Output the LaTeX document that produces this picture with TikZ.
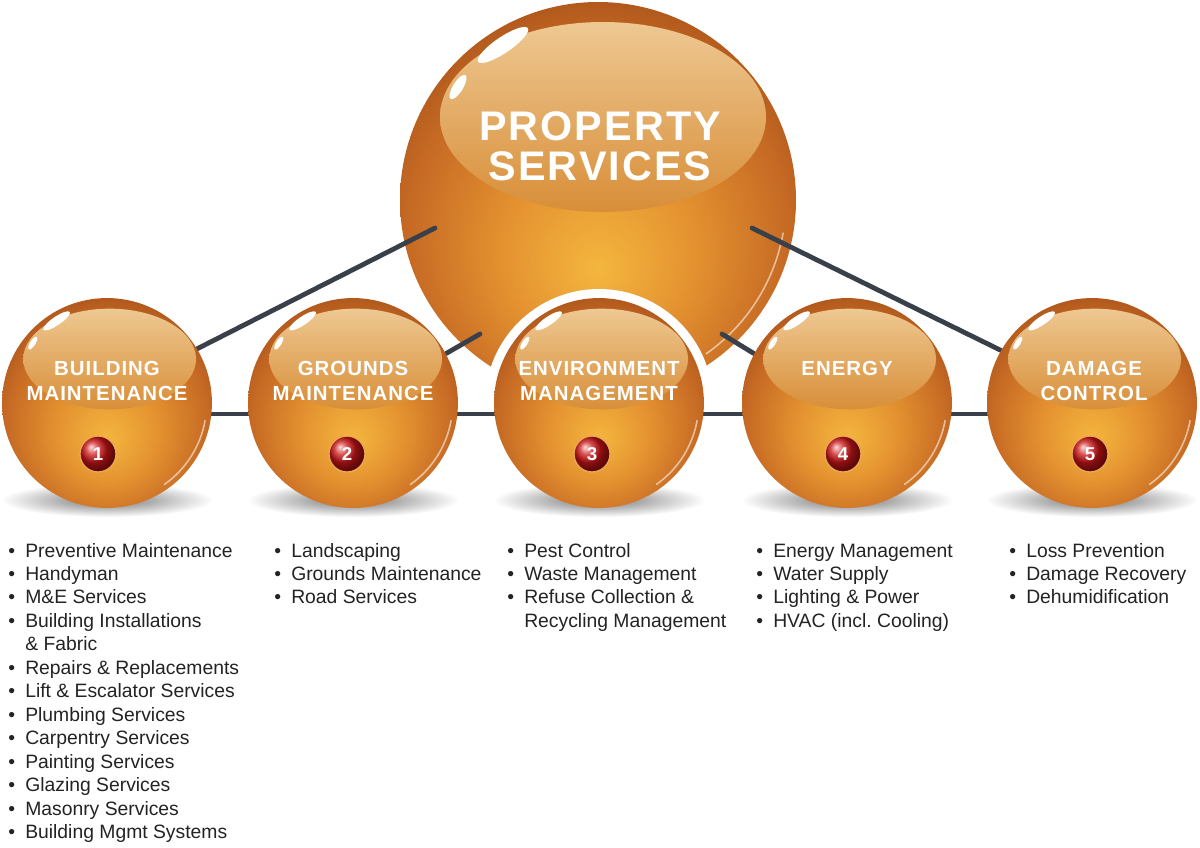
\documentclass[tikz,border=0pt]{standalone}
\usepackage{fontspec}
\setmainfont{Liberation Sans}
\newfontfamily\orbfont[LetterSpace=5]{Liberation Sans}
\usetikzlibrary{calc,positioning}

\definecolor{orbHi}{RGB}{244,182,62}
\definecolor{orbMid}{RGB}{228,146,48}
\definecolor{orbDark}{RGB}{198,106,36}
\definecolor{orbRim}{RGB}{168,82,26}
\definecolor{glossTop}{RGB}{238,200,146}
\definecolor{glossBot}{RGB}{216,142,56}
\definecolor{linkGray}{RGB}{58,64,74}
\definecolor{listText}{RGB}{35,35,35}
\definecolor{badgeRed}{RGB}{205,20,22}
\definecolor{badgeRing}{RGB}{238,168,80}

\pgfdeclareradialshading{orbshade}{\pgfpoint{0bp}{-9bp}}{%
  color(0bp)=(orbHi); color(12bp)=(orbMid); color(24bp)=(orbDark);
  color(31bp)=(orbRim); color(50bp)=(orbRim)}

\newcommand{\svc}{\makebox[12.75pt][l]{\textbullet}}
\newcommand{\svcskip}{\hspace*{12.75pt}}

\tikzset{
  sphere/.pic={
    \shade[shading=orbshade] (0,0) circle (198);
    \shade[top color=glossTop,bottom color=glossBot] (5,-83) ellipse (163 and 95);
    \fill[white,rotate around={34:(-95,-155)}] (-95,-155) ellipse (30 and 8);
    \fill[white,rotate around={58:(-140,-113)}] (-140,-113) ellipse (14 and 5);
    \draw[white,opacity=0.55,line width=1.2pt] (0,0) ++(10:188) arc[start angle=10,end angle=55,radius=188];
  }
}

\begin{document}
\begin{tikzpicture}[
    x=0.75pt,y=-0.75pt,
    hub/.style={circle,minimum size=297pt,inner sep=0pt},
    ballnode/.style={circle,minimum size=158pt,inner sep=0pt},
    link/.style={draw=linkGray,line width=3.6pt,line cap=round},
    bigtitle/.style={text=white,inner sep=0pt,anchor=base,
      font=\orbfont\bfseries\fontsize{31}{28.5}\selectfont},
    balltitle/.style={text=white,inner sep=0pt,anchor=base,
      font=\orbfont\bfseries\fontsize{15.3}{18.75}\selectfont},
    badge/.style={circle,ball color=badgeRed,draw=badgeRing,line width=1pt,
      minimum size=27pt,inner sep=0pt,text=white,font=\bfseries\fontsize{14}{14}\selectfont},
    svclist/.style={anchor=base west,inner sep=0pt,text=listText,
      font=\fontsize{14.5}{17.6}\selectfont}
  ]
    \fill[white] (0,0) rectangle (1200,847);
    \useasboundingbox (0,0) rectangle (1200,847);

    % centre sphere and the five service spheres
    \node[hub] (prop) at (598,200) {};
    \foreach \i/\x in {1/107,2/353,3/599,4/847,5/1092}
      \node[ballnode] (s\i) at (\x,403) {};
    \pic at (prop.center) {sphere};

    % white gaps and floor shadows
    \foreach \i in {1,...,5}
      \fill[white] (s\i.center) circle (114);
    \foreach \i in {1,...,5}
      \shade[inner color=black!55,outer color=white] ($(s\i.center)+(0,97)$) ellipse (106 and 17);

    % connectors
    \coordinate (pW) at (435,228);
    \coordinate (pE) at (752,228);
    \coordinate (pSW) at (480,334);
    \coordinate (pSE) at (722,334);
    \draw[link] (s1.31) -- (pW);
    \draw[link] (s5.150) -- (pE);
    \draw[link] (s2.28) -- (pSW);
    \draw[link] (s4.152) -- (pSE);
    \draw[link] (s1.-6) -- (s2.186);
    \draw[link] (s2.-6) -- (s3.186);
    \draw[link] (s3.-6) -- (s4.186);
    \draw[link] (s4.-6) -- (s5.186);

    \foreach \i in {1,...,5}
      \pic[scale=0.53] at (s\i.center) {sphere};

    % titles
    \node[bigtitle] (propT) at ($(prop.center)+(2,-60)$)
      {\begin{tabular}[t]{@{}c@{}}PROPERTY\\SERVICES\end{tabular}};
    \node[balltitle] (t1) at ($(s1.center)+(0,-28)$)
      {\begin{tabular}[t]{@{}c@{}}BUILDING\\MAINTENANCE\end{tabular}};
    \node[balltitle] (t2) at ($(s2.center)+(0,-28)$)
      {\begin{tabular}[t]{@{}c@{}}GROUNDS\\MAINTENANCE\end{tabular}};
    \node[balltitle] (t3) at ($(s3.center)+(0,-28)$)
      {\begin{tabular}[t]{@{}c@{}}ENVIRONMENT\\MANAGEMENT\end{tabular}};
    \node[balltitle] (t4) at ($(s4.center)+(0,-28)$) {ENERGY};
    \node[balltitle] (t5) at ($(s5.center)+(2,-28)$)
      {\begin{tabular}[t]{@{}c@{}}DAMAGE\\CONTROL\end{tabular}};

    % numbered badges
    \foreach \i/\dx in {1/-9,2/-6,3/-7,4/-4,5/-2}
      \node[badge] (b\i) at ($(s\i.center)+(\dx,51)$) {\i};

    % service lists
    \node[svclist] (l1) at (8,557) {\begin{tabular}[t]{@{}l@{}}
      \svc Preventive Maintenance\\
      \svc Handyman\\
      \svc M\&E Services\\
      \svc Building Installations\\
      \svcskip\& Fabric\\
      \svc Repairs \& Replacements\\
      \svc Lift \& Escalator Services\\
      \svc Plumbing Services\\
      \svc Carpentry Services\\
      \svc Painting Services\\
      \svc Glazing Services\\
      \svc Masonry Services\\
      \svc Building Mgmt Systems
    \end{tabular}};
    \node[svclist] (l2) at (274,557) {\begin{tabular}[t]{@{}l@{}}
      \svc Landscaping\\
      \svc Grounds Maintenance\\
      \svc Road Services
    \end{tabular}};
    \node[svclist] (l3) at (507,557) {\begin{tabular}[t]{@{}l@{}}
      \svc Pest Control\\
      \svc Waste Management\\
      \svc Refuse Collection \&\\
      \svcskip Recycling Management
    \end{tabular}};
    \node[svclist] (l4) at (756,557) {\begin{tabular}[t]{@{}l@{}}
      \svc Energy Management\\
      \svc Water Supply\\
      \svc Lighting \& Power\\
      \svc HVAC (incl.\ Cooling)
    \end{tabular}};
    \node[svclist] (l5) at (1009,557) {\begin{tabular}[t]{@{}l@{}}
      \svc Loss Prevention\\
      \svc Damage Recovery\\
      \svc Dehumidification
    \end{tabular}};
  \end{tikzpicture}
\end{document}
